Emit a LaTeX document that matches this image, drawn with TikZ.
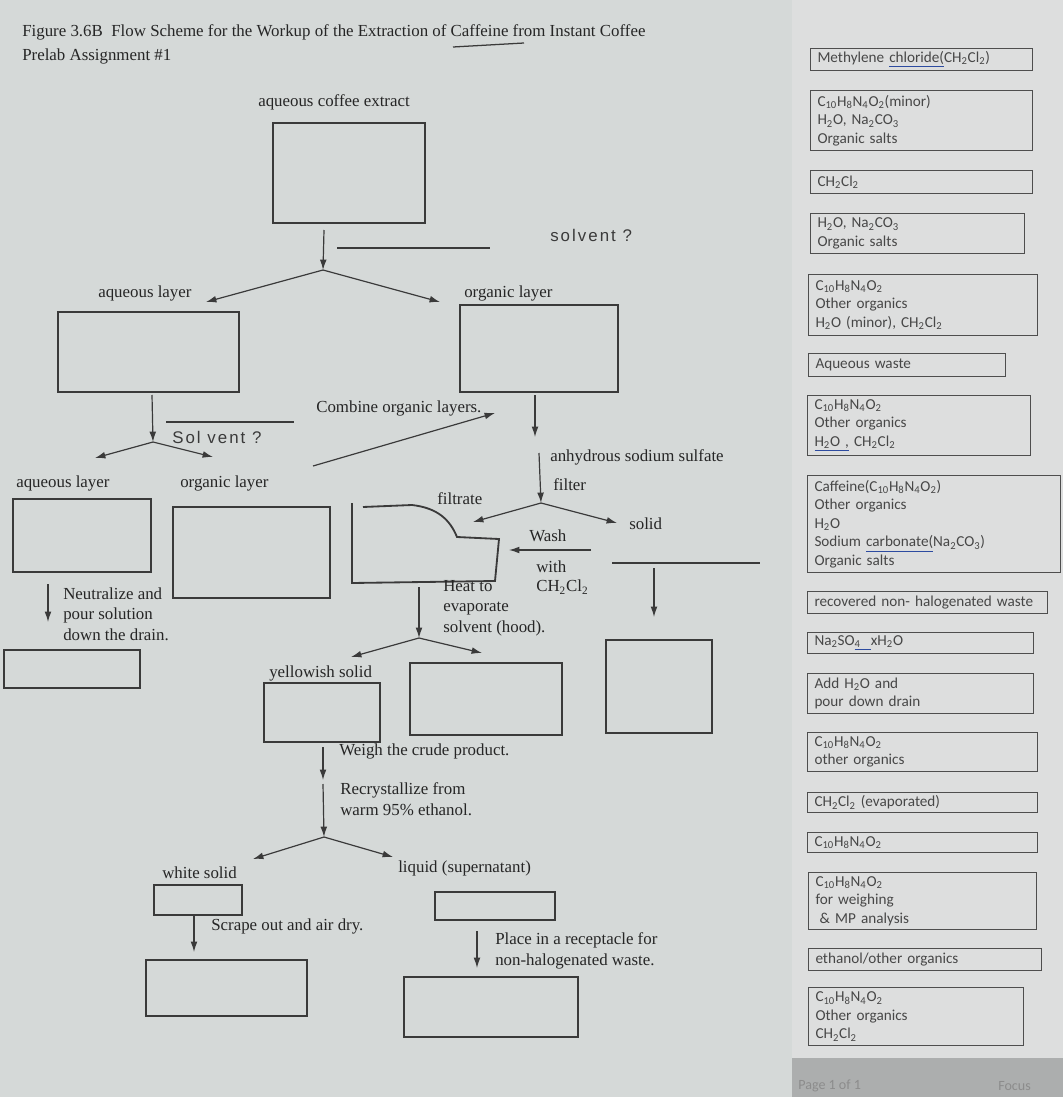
\documentclass[tikz,border=0pt]{standalone}
\usepackage{fontspec}
\setmainfont{Liberation Serif}
\newfontfamily\panelfont{Carlito}
\newfontfamily\handfont[LetterSpace=12]{Liberation Sans}
\usetikzlibrary{arrows.meta,fit}
\definecolor{paper}{RGB}{213,217,216}
\definecolor{panel}{RGB}{221,222,222}
\definecolor{bar}{RGB}{172,174,174}
\definecolor{ink}{RGB}{38,38,38}
\definecolor{pen}{RGB}{58,58,58}
\definecolor{spell}{RGB}{45,75,160}
\newdimen\px \px=0.025cm
\newcommand{\caff}{C\textsubscript{10}H\textsubscript{8}N\textsubscript{4}O\textsubscript{2}}
\newcommand{\dcm}{CH\textsubscript{2}Cl\textsubscript{2}}
\newcommand{\spellmark}[1]{{\color{spell}\underline{\color{ink!85}#1}}}
\tikzset{
  box/.style={draw=pen,line width=1.3pt,inner sep=0pt},
  flow/.style={draw=pen,line width=0.85pt,-{Latex[length=2.6mm,width=1.7mm]}},
  pencil/.style={draw=pen,line width=1.4pt},
  lab/.style={text=ink,inner sep=0pt,anchor=west,align=left,font=\fontsize{12}{14.6}\selectfont},
  hand/.style={text=pen,inner sep=0pt,anchor=west,font=\handfont\fontsize{12}{14}\selectfont},
  rbox/.style={draw=pen!90,line width=0.7pt,anchor=north west,inner xsep=7\px,inner ysep=0pt,
    align=left,text=ink!85,font=\panelfont\fontsize{10.8}{13.2}\selectfont}
}
\begin{document}
\begin{tikzpicture}[x=0.025cm,y=-0.025cm]
\useasboundingbox (0,0) rectangle (1063,1097);
\fill[paper] (0,0) rectangle (1063,1097);
\fill[panel] (792,0) rectangle (1063,1058);
\fill[bar] (792,1058) rectangle (1063,1097);

\node[lab] (title) at (22,32) {Figure 3.6B\ \ Flow Scheme for the Workup of the Extraction of Caffeine from Instant Coffee};
\node[lab] (prelab) at (22,56) {Prelab Assignment \#1};
\draw[pen,line width=0.9pt] (453,47) -- (524,43);

\node[box,fit={(273,123) (425,223)}] (extract) {};
\node[box,fit={(58,312) (239,392)}] (aqbox) {};
\node[box,fit={(460,305) (618,392)}] (orgbox) {};
\node[box,fit={(13,499) (151,572)}] (aqbox2) {};
\node[box,fit={(173,507) (330,598)}] (orgbox2) {};
\node[box,fit={(4,650) (140,688)}] (drainbox) {};
\draw[box] (363,507) -- (412,505) .. controls (438,508) and (450,520) .. (457,537) -- (499,539) -- (495,581) -- (352,583) -- (352,503);
\node[box,fit={(606,640) (712,733)}] (solidbox) {};
\node[box,fit={(264,683) (380,742)}] (yellowbox) {};
\node[box,fit={(410,663) (562,735)}] (evapbox) {};
\node[box,fit={(154,885) (242,915)}] (whitebox) {};
\node[box,fit={(435,892) (555,920)}] (liquidbox) {};
\node[box,fit={(146,960) (307,1016)}] (drybox) {};
\node[box,fit={(404,977) (578,1037)}] (wastebox) {};

\node[lab,anchor=center] (extractlab) at (334,102) {aqueous coffee extract};
\node[hand] (solvent1) at (550,235) {solvent ?};
\node[lab] (aqlab) at (98,293) {aqueous layer};
\node[lab] (orglab) at (464,293) {organic layer};
\node[lab] (combine) at (316,408) {Combine organic layers.};
\node[hand] (solvent2) at (172,437) {Sol vent ?};
\node[lab] (aqlab2) at (16,483) {aqueous layer};
\node[lab] (orglab2) at (180,483) {organic layer};
\node[lab] (dry1) at (550,457) {anhydrous sodium sulfate};
\node[lab] (filter) at (553,485) {filter};
\node[lab] (filtrate) at (437,499) {filtrate};
\node[lab] (solid) at (629,524) {solid};
\node[lab] (wash) at (529,536) {Wash};
\node[lab] (with) at (536,567) {with};
\node[lab] (washdcm) at (536,587) {\dcm};
\node[lab] (neutral) at (63,614) {Neutralize and\\pour solution\\down the drain.};
\node[lab] (heat) at (443,608) {Heat to\\evaporate\\solvent (hood).};
\node[lab] (yellow) at (269,673) {yellowish solid};
\node[lab] (weigh) at (339,751) {Weigh the crude product.};
\node[lab] (recryst) at (340,799) {Recrystallize from\\warm 95\% ethanol.};
\node[lab] (white) at (162,873) {white solid};
\node[lab] (liquid) at (398,868) {liquid (supernatant)};
\node[lab] (scrape) at (211,926) {Scrape out and air dry.};
\node[lab] (place) at (495,951) {Place in a receptacle for\\non-halogenated waste.};

\draw[pencil] (337,248) -- (490,248);
\draw[pencil] (166,422) -- (294,422);
\draw[pencil] (612,563) -- (760,563);

\coordinate (e1) at (324,230);
\coordinate (s1) at (323,270);
\coordinate (aqin) at (206,302);
\coordinate (orgin) at (440,302);
\coordinate (e2) at (152,395);
\coordinate (s2) at (153,442);
\coordinate (aqin2) at (95,458);
\coordinate (orgin2) at (213,457);
\coordinate (c1) at (313,466);
\coordinate (c2) at (495,413);
\coordinate (e3) at (535,395);
\coordinate (e3b) at (535,437);
\coordinate (e4) at (539,453);
\coordinate (s4) at (541,503);
\coordinate (filtin) at (473,522);
\coordinate (solidin) at (617,523);
\coordinate (w1) at (591,550);
\coordinate (w2) at (509,550);
\coordinate (e5) at (654,568);
\coordinate (e5b) at (654,617);
\coordinate (e6) at (48,584);
\coordinate (e6b) at (48,622);
\coordinate (e7) at (419,587);
\coordinate (s7) at (419,638);
\coordinate (yellowin) at (351,657);
\coordinate (evapin) at (482,653);
\coordinate (e8) at (323,747);
\coordinate (e8b) at (323,780);
\coordinate (e9) at (323,784);
\coordinate (s9) at (324,837);
\coordinate (whitein) at (253,859);
\coordinate (liquidin) at (393,857);
\coordinate (e10) at (194,915);
\coordinate (e10b) at (194,952);
\coordinate (e11) at (477,931);
\coordinate (e11b) at (477,968);

\draw[flow] (e1) -- (s1);
\draw[flow] (s1) -- (aqin);
\draw[flow] (s1) -- (orgin);
\draw[flow] (e2) -- (s2);
\draw[flow] (s2) -- (aqin2);
\draw[flow] (s2) -- (orgin2);
\draw[flow] (c1) -- (c2);
\draw[flow] (e3) -- (e3b);
\draw[flow] (e4) -- (s4);
\draw[flow] (s4) -- (filtin);
\draw[flow] (s4) -- (solidin);
\draw[flow] (w1) -- (w2);
\draw[flow] (e5) -- (e5b);
\draw[flow] (e6) -- (e6b);
\draw[flow] (e7) -- (s7);
\draw[flow] (s7) -- (yellowin);
\draw[flow] (s7) -- (evapin);
\draw[flow] (e8) -- (e8b);
\draw[flow] (e9) -- (s9);
\draw[flow] (s9) -- (whitein);
\draw[flow] (s9) -- (liquidin);
\draw[flow] (e10) -- (e10b);
\draw[flow] (e11) -- (e11b);

\node[rbox,text width=208\px,minimum height=22\px] (r1) at (810,48) {Methylene \spellmark{chloride(}CH\textsubscript{2}Cl\textsubscript{2})};
\node[rbox,text width=208\px,minimum height=60\px] (r2) at (810,90) {\caff(minor)\\H\textsubscript{2}O, Na\textsubscript{2}CO\textsubscript{3}\\Organic salts};
\node[rbox,text width=208\px,minimum height=23\px] (r3) at (810,170) {\dcm};
\node[rbox,text width=200\px,minimum height=40\px] (r4) at (810,213) {H\textsubscript{2}O, Na\textsubscript{2}CO\textsubscript{3}\\Organic salts};
\node[rbox,text width=215\px,minimum height=61\px] (r5) at (808,274) {\caff\\Other organics\\H\textsubscript{2}O (minor), \dcm};
\node[rbox,text width=183\px,minimum height=23\px] (r6) at (808,353) {Aqueous waste};
\node[rbox,text width=209\px,minimum height=60\px] (r7) at (807,395) {\caff\\Other organics\\\spellmark{H\textsubscript{2}O ,} \dcm};
\node[rbox,text width=239\px,minimum height=97\px] (r8) at (807,475) {Caffeine(\caff)\\Other organics\\H\textsubscript{2}O\\Sodium \spellmark{carbonate(}Na\textsubscript{2}CO\textsubscript{3})\\Organic salts};
\node[rbox,text width=226\px,minimum height=22\px] (r9) at (807,591) {recovered non- halogenated waste};
\node[rbox,text width=212\px,minimum height=21\px] (r10) at (807,632) {Na\textsubscript{2}SO\spellmark{\textsubscript{4}\ \ }xH\textsubscript{2}O};
\node[rbox,text width=212\px,minimum height=40\px] (r11) at (807,673) {Add H\textsubscript{2}O and\\pour down drain};
\node[rbox,text width=216\px,minimum height=39\px] (r12) at (807,732) {\caff\\other organics};
\node[rbox,text width=216\px,minimum height=20\px] (r13) at (807,792) {\dcm\ (evaporated)};
\node[rbox,text width=216\px,minimum height=20\px] (r14) at (807,832) {\caff};
\node[rbox,text width=214\px,minimum height=57\px] (r15) at (808,872) {\caff\\for weighing\\\hspace{3pt}\& MP analysis};
\node[rbox,text width=219\px,minimum height=22\px] (r16) at (808,948) {ethanol/other organics};
\node[rbox,text width=201\px,minimum height=58\px] (r17) at (808,987) {\caff\\Other organics\\\dcm};

\node[text=black!45,font=\panelfont\fontsize{10}{12}\selectfont,anchor=west,inner sep=0pt] (page) at (798,1086) {Page 1 of 1};
\node[text=black!45,font=\panelfont\fontsize{10}{12}\selectfont,anchor=west,inner sep=0pt] (focus) at (998,1086) {Focus};
\end{tikzpicture}
\end{document}
